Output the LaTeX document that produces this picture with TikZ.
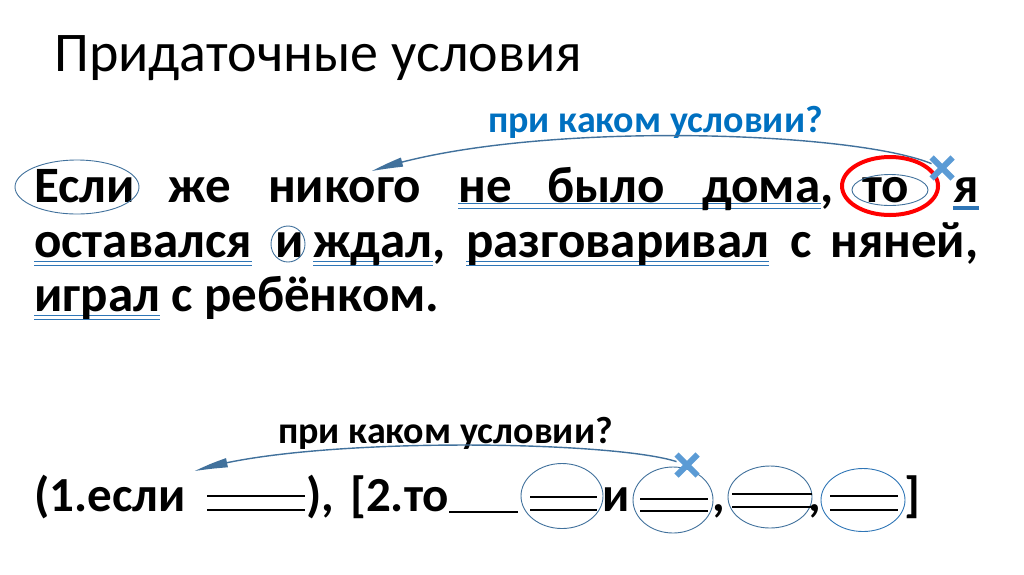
\documentclass[tikz,border=0pt]{standalone}
\usepackage{fontspec}
\setmainfont{Carlito}
\usetikzlibrary{positioning,arrows.meta,bending,shapes.geometric,shapes.misc,backgrounds}
\definecolor{askblue}{RGB}{0,112,192}
\definecolor{lineblue}{RGB}{46,117,182}
\definecolor{arcblue}{RGB}{65,113,156}
\definecolor{crossblue}{RGB}{91,155,213}
\tikzstyle{titlenode}=[inner sep=0pt, anchor=base west, font={\fontsize{56}{62}\selectfont}]
\tikzstyle{wordnode}=[inner sep=0pt, anchor=base west, font={\fontsize{51}{58}\selectfont\bfseries}]
\tikzstyle{schemenode}=[inner sep=0pt, anchor=base west, font={\fontsize{49}{56}\selectfont\bfseries}]
\tikzstyle{asknode}=[inner sep=0pt, anchor=base west, text=askblue, font={\fontsize{38}{44}\selectfont\bfseries}]
\tikzstyle{ringnode}=[draw=arcblue, ellipse, inner sep=0pt, line width=0.9pt]
\tikzstyle{crossnode}=[draw=crossblue, cross out, inner sep=0pt, minimum size=15pt, line width=6pt]
\tikzstyle{askarrow}=[draw=arcblue, line width=1.4pt, -{Triangle[length=30pt,width=9pt,bend]}]
\tikzstyle{dunder}=[draw=lineblue, line width=1.2pt, double=white, double distance=3.4pt]
\tikzstyle{schemeline}=[draw=black, line width=2.6pt]

\begin{document}
\begin{tikzpicture}[x=1pt,y=-1pt]
\useasboundingbox (0,0) rectangle (1024,574);
\node[titlenode] (title) at (54,71) {Придаточные условия};

% the sentence
\node[wordnode] (esli) at (34,202) {Если};
\node[wordnode] (zhe) at (168,202) {же};
\node[wordnode] (nikogo) at (268,202) {никого};
\node[wordnode] (ne) at (458,202) {не};
\node[wordnode] (bylo) at (547,202) {было};
\node[wordnode] (doma) at (702,202) {дома};
\node[wordnode] (commaA) at (doma.base east) {,};
\node[wordnode] (to) at (862,202) {то};
\node[wordnode] (ya) at (953,202) {я};
\node[wordnode] (ostavalsya) at (34,257) {оставался};
\node[wordnode] (i) at (275,257) {и};
\node[wordnode] (zhdal) at (313,257) {ждал};
\node[wordnode] (commaB) at (zhdal.base east) {,};
\node[wordnode] (razgovarival) at (466,257) {разговаривал};
\node[wordnode] (s) at (790,257) {с};
\node[wordnode] (nyanei) at (830,257) {няней,};
\node[wordnode] (igral) at (34,311) {играл};
\node[wordnode] (rebenkom) at (171,311) {с ребёнком.};

% underlines on the background
\begin{scope}[on background layer]
\draw[dunder] ([yshift=-4pt]ne.base west) -- ([yshift=-4pt]doma.base east);
\draw[dunder] ([yshift=-6.5pt]ostavalsya.base west) -- ([yshift=-6.5pt]ostavalsya.base east);
\draw[dunder] ([yshift=-6.5pt]zhdal.base west) -- ([yshift=-6.5pt]zhdal.base east);
\draw[dunder] ([yshift=-6.5pt]razgovarival.base west) -- ([yshift=-6.5pt]razgovarival.base east);
\draw[dunder] ([yshift=-6.5pt]igral.base west) -- ([yshift=-6.5pt]igral.base east);
\draw[draw=lineblue, line width=3.5pt] ([yshift=-6pt]ya.base west) -- ([yshift=-6pt]ya.base east);
\end{scope}

\node[ringnode, minimum width=124pt, minimum height=54pt] (eslioval) at (77,187) {};
\node[ringnode, minimum width=34pt, minimum height=36pt] (ioval) at (288,244) {};
\node[ringnode, minimum width=76pt, minimum height=31pt] (tooval) at (890,190) {};
\node[ringnode, draw=red, line width=4pt, minimum width=96pt, minimum height=58pt] (toring) at (890,186) {};

\node[asknode] (askA) at (488,132) {при каком условии?};
\node[crossnode] (crossA) at (942,168) {};
\coordinate (tipA) at (372,171);
\draw[askarrow] (crossA) .. controls (850,130) and (520,120) .. (tipA);

% the scheme
\node[schemenode] (ifpart) at (34,511) {(1.если};
\draw[schemeline] (207,496) -- (305,496) (207,510) -- (305,510);
\node[schemenode] (closeA) at (306,511) {),};
\node[schemenode] (thenpart) at (350,511) {[2.то};
\draw[schemeline] ([yshift=-1pt]thenpart.base east) -- (518,512);
\node[ringnode, minimum width=82pt, minimum height=65pt] (ovalA) at (562,496) {};
\draw[schemeline] (530,497) -- (597,497) (530,510) -- (597,510);
\node[schemenode] (andword) at (602,511) {и};
\node[ringnode, minimum width=80pt, minimum height=66pt] (ovalB) at (673,500) {};
\draw[schemeline] (640,499) -- (708,499) (640,511) -- (708,511);
\node[schemenode] (commaC) at (712,511) {,};
\node[ringnode, minimum width=84pt, minimum height=62pt] (ovalC) at (770,497) {};
\draw[schemeline] (732,494) -- (812,494) (732,507) -- (812,507);
\node[schemenode] (commaD) at (808,511) {,};
\node[ringnode, draw=lineblue, minimum width=84pt, minimum height=63pt] (ovalD) at (863,500) {};
\draw[schemeline] (830,496) -- (898,496) (830,510) -- (898,510);
\node[schemenode] (closeB) at (904,511) {]};

\node[asknode, text=black] (askB) at (278,443) {при каком условии?};
\node[crossnode] (crossB) at (687,465) {};
\coordinate (tipB) at (195,471);
\draw[askarrow] (crossB) .. controls (610,440) and (300,436) .. (tipB);
\end{tikzpicture}
\end{document}
